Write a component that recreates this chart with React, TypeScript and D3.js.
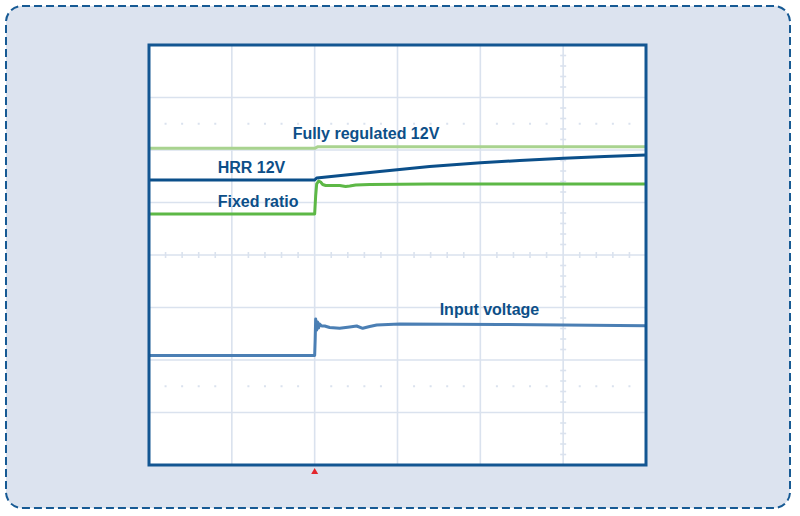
import * as d3 from "d3"

// Scope screen: 6 horizontal divisions (trigger at 0), 8 vertical divisions
const xDivs = [-2, -1, 0, 1, 2, 3, 4]
const yDivs = [0, 1, 2, 3, 4, 5, 6, 7, 8]

// Traces, [time div, level div]
const fullyRegulated: [number, number][] = [
  [-2, 6.032], [0, 6.032], [0.04, 6.063], [4, 6.063],
]
const hrr12V: [number, number][] = [
  [-2, 5.429], [0, 5.429], [0.024, 5.467], [0.785, 5.59], [1.388, 5.686],
  [2.004, 5.758], [2.475, 5.8], [3.006, 5.842], [3.501, 5.876], [4, 5.905],
]
const fixedRatio: [number, number][] = [
  [-2, 4.781], [0, 4.781], [0.012, 5.124], [0.024, 5.352], [0.048, 5.41],
  [0.072, 5.39], [0.097, 5.343], [0.133, 5.324], [0.302, 5.324], [0.374, 5.305],
  [0.423, 5.314], [0.495, 5.333], [0.664, 5.343], [1.388, 5.352], [4, 5.352],
]
const inputVoltage: [number, number][] = [
  [-2, 2.086], [0, 2.086], [0.006, 2.381], [0.012, 2.781], [0.024, 2.571],
  [0.036, 2.724], [0.048, 2.61], [0.06, 2.686], [0.085, 2.648], [0.121, 2.648],
  [0.181, 2.619], [0.302, 2.604], [0.423, 2.629], [0.507, 2.648], [0.58, 2.604],
  [0.664, 2.638], [0.749, 2.667], [1.026, 2.686], [2.233, 2.676], [4, 2.653],
]

const traces = [
  { name: "Fully regulated 12V", data: fullyRegulated, color: "#a9d38f" },
  { name: "Fixed ratio", data: fixedRatio, color: "#5db846" },
  { name: "HRR 12V", data: hrr12V, color: "#0b4f8a" },
  { name: "Input voltage", data: inputVoltage, color: "#4b7fb4" },
]

// label anchors [time div, level div]
const labels: { text: string; at: [number, number] }[] = [
  { text: "Fully regulated 12V", at: [-0.266, 6.21] },
  { text: "HRR 12V", at: [-1.171, 5.556] },
  { text: "Fixed ratio", at: [-1.171, 4.92] },
  { text: "Input voltage", at: [1.509, 2.857] },
]

export default function App() {
  const width = 800
  const height = 516
  const x = d3.scaleLinear().domain([-2, 4]).range([149, 646])
  const y = d3.scaleLinear().domain([0, 8]).range([465, 45])

  const line = d3
    .line<[number, number]>()
    .x((d) => x(d[0]))
    .y((d) => y(d[1]))

  const gridColor = "#dae2ee"
  const minorX = d3.range(-2, 4.001, 0.2).filter((v) => Math.abs(v - Math.round(v)) > 0.01)
  const minorY = d3.range(0, 8.001, 0.2).filter((v) => Math.abs(v - Math.round(v)) > 0.01)

  return (
    <svg
      width={width}
      height={height}
      style={{ position: "absolute", left: 0, top: 0, fontFamily: "'Liberation Sans', Arial, sans-serif" }}
    >
      <rect
        x={6}
        y={6}
        width={784}
        height={502}
        rx={16}
        fill="#dce3ef"
        stroke="#175a94"
        strokeWidth={2}
        strokeDasharray="8 4"
      />
      <rect x={x(-2)} y={y(8)} width={x(4) - x(-2)} height={y(0) - y(8)} fill="#fff" />

      {/* grid */}
      {xDivs.slice(1, -1).map((d) => (
        <line key={"gx" + d} x1={x(d)} x2={x(d)} y1={y(0)} y2={y(8)} stroke={gridColor} strokeWidth={1.6} />
      ))}
      {yDivs.slice(1, -1).map((d) => (
        <line key={"gy" + d} x1={x(-2)} x2={x(4)} y1={y(d)} y2={y(d)} stroke={gridColor} strokeWidth={1.6} />
      ))}

      {/* minor ticks on centre lines */}
      {minorX.map((d) => (
        <line key={"tx" + d} x1={x(d)} x2={x(d)} y1={y(4) - 3} y2={y(4) + 3} stroke={gridColor} strokeWidth={1.6} />
      ))}
      {minorY.map((d) => (
        <line key={"ty" + d} x1={x(3) - 3} x2={x(3) + 3} y1={y(d)} y2={y(d)} stroke={gridColor} strokeWidth={1.6} />
      ))}

      {/* dotted rows */}
      {[6.5, 1.5].map((r) =>
        minorX.map((d) => (
          <rect key={"dot" + r + d} x={x(d) - 1} y={y(r) - 1} width={2} height={2} fill={gridColor} />
        ))
      )}

      {/* traces */}
      {traces.map((t) => (
        <path
          key={t.name}
          d={line(t.data) || ""}
          fill="none"
          stroke={t.color}
          strokeWidth={3}
          strokeLinejoin="round"
        />
      ))}

      {/* labels */}
      {labels.map((l) => (
        <text key={l.text} x={x(l.at[0])} y={y(l.at[1])} fontSize={16} fontWeight="bold" fill="#0d4f88">
          {l.text}
        </text>
      ))}

      {/* screen border */}
      <rect
        x={x(-2)}
        y={y(8)}
        width={x(4) - x(-2)}
        height={y(0) - y(8)}
        fill="none"
        stroke="#135692"
        strokeWidth={3}
      />

      {/* trigger marker */}
      <path
        d={`M${x(0)},${y(0) + 3} l-3.5,6 h7 z`}
        fill="#e3262d"
      />
    </svg>
  )
}
